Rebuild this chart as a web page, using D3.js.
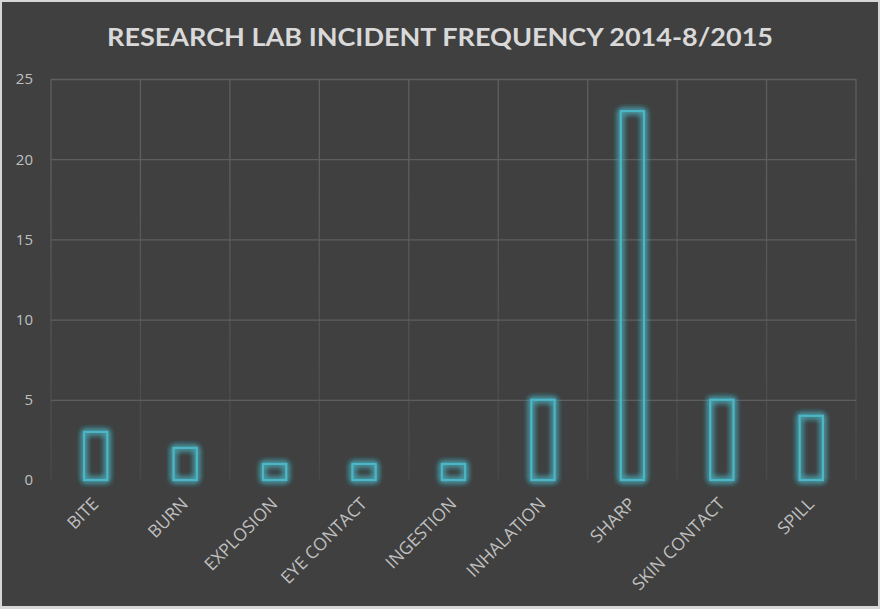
<!DOCTYPE html>
<html>
<head>
<meta charset="utf-8">
<script src="https://cdn.jsdelivr.net/npm/d3@7"></script>
<style>
    body { margin: 0; background: #d6d6d6; }
    svg { display: block; }
</style>
</head>
<body>
<div id="chart-container"></div>
<script>
// chart data
const categories = ['BITE', 'BURN', 'EXPLOSION', 'EYE CONTACT', 'INGESTION', 'INHALATION', 'SHARP', 'SKIN CONTACT', 'SPILL'];
const incidents = [3, 2, 1, 1, 1, 5, 23, 5, 4];
const yTicks = [0, 5, 10, 15, 20, 25];
const title = 'RESEARCH LAB INCIDENT FREQUENCY 2014-8/2015';

const W = 880, H = 609;
const margin = { top: 79, right: 24, bottom: 129, left: 51 },
    width = W - margin.left - margin.right,
    height = H - margin.top - margin.bottom;

const root = d3.select('#chart-container')
    .append('svg')
    .attr('width', W)
    .attr('height', H);

// light frame + dark panel
root.append('rect').attr('width', W).attr('height', H).attr('fill', '#d6d6d6');
root.append('rect')
    .attr('x', 2).attr('y', 2)
    .attr('width', W - 4).attr('height', H - 5)
    .attr('fill', '#404040');

const defs = root.append('defs');

// grid lines fade out toward the bottom
const grad = defs.append('linearGradient')
    .attr('id', 'gridFade')
    .attr('gradientUnits', 'userSpaceOnUse')
    .attr('x1', 0).attr('y1', margin.top)
    .attr('x2', 0).attr('y2', margin.top + height);
grad.append('stop').attr('offset', '0%').attr('stop-color', '#5e5e5e');
grad.append('stop').attr('offset', '100%').attr('stop-color', '#434343');

// glow round the bars
const glow = defs.append('filter')
    .attr('id', 'glow')
    .attr('x', '-60%').attr('y', '-60%')
    .attr('width', '220%').attr('height', '220%');
glow.append('feGaussianBlur').attr('in', 'SourceGraphic').attr('stdDeviation', 3).attr('result', 'blur');
const merge = glow.append('feMerge');
merge.append('feMergeNode').attr('in', 'blur');
merge.append('feMergeNode').attr('in', 'blur');
merge.append('feMergeNode').attr('in', 'blur');
merge.append('feMergeNode').attr('in', 'SourceGraphic');

// title
root.append('text')
    .attr('x', W / 2)
    .attr('y', 46)
    .attr('text-anchor', 'middle')
    .attr('font-family', 'Lato, "Open Sans", sans-serif')
    .attr('font-weight', 'bold')
    .attr('font-size', 25)
    .attr('fill', '#d9d9d9')
    .attr('textLength', 666)
    .attr('lengthAdjust', 'spacingAndGlyphs')
    .text(title);

const svg = root.append('g')
    .attr('transform', `translate(${margin.left},${margin.top})`);

const x = d3.scaleBand()
    .domain(categories)
    .range([0, width]);

const y = d3.scaleLinear()
    .domain([0, 25])
    .range([height, 0]);

// vertical grid lines on category boundaries
const bounds = categories.map(c => x(c)).concat([width]);
svg.append('g')
    .selectAll('line')
    .data(bounds)
    .enter()
    .append('line')
    .attr('x1', d => d).attr('x2', d => d)
    .attr('y1', 0).attr('y2', height)
    .attr('stroke', 'url(#gridFade)')
    .attr('stroke-width', 1.3);

// Y axis and horizontal grid lines
const yAxis = svg.append('g')
    .call(d3.axisLeft(y).tickValues(yTicks).tickSize(0).tickPadding(18));
yAxis.select('.domain').remove();
yAxis.selectAll('.tick text')
    .attr('fill', '#bfbfbf')
    .attr('font-family', '"Open Sans", sans-serif')
    .attr('font-size', 15);
yAxis.selectAll('.tick line')
    .filter(d => d > 0)
    .attr('x2', width)
    .attr('stroke', 'url(#gridFade)')
    .attr('stroke-width', 1.3);

// X axis labels, rotated
const xAxis = svg.append('g')
    .attr('transform', `translate(0,${height})`)
    .call(d3.axisBottom(x).tickSize(0).tickPadding(0));
xAxis.select('.domain').remove();
xAxis.selectAll('.tick text')
    .attr('fill', '#bfbfbf')
    .attr('font-family', '"Open Sans", sans-serif')
    .attr('font-size', 17.5)
    .attr('text-anchor', 'end')
    .attr('dy', 0)
    .attr('transform', 'translate(4,25) rotate(-45)');

// hollow glowing bars
const barW = x.bandwidth() * 0.26;
svg.append('g')
    .selectAll('rect')
    .data(categories)
    .enter()
    .append('rect')
    .attr('x', d => x(d) + x.bandwidth() / 2 - barW / 2)
    .attr('y', (d, i) => y(incidents[i]))
    .attr('width', barW)
    .attr('height', (d, i) => height - y(incidents[i]))
    .attr('fill', 'none')
    .attr('stroke', '#4bb6c5')
    .attr('stroke-width', 2.2)
    .attr('filter', 'url(#glow)');
</script>
</body>
</html>
